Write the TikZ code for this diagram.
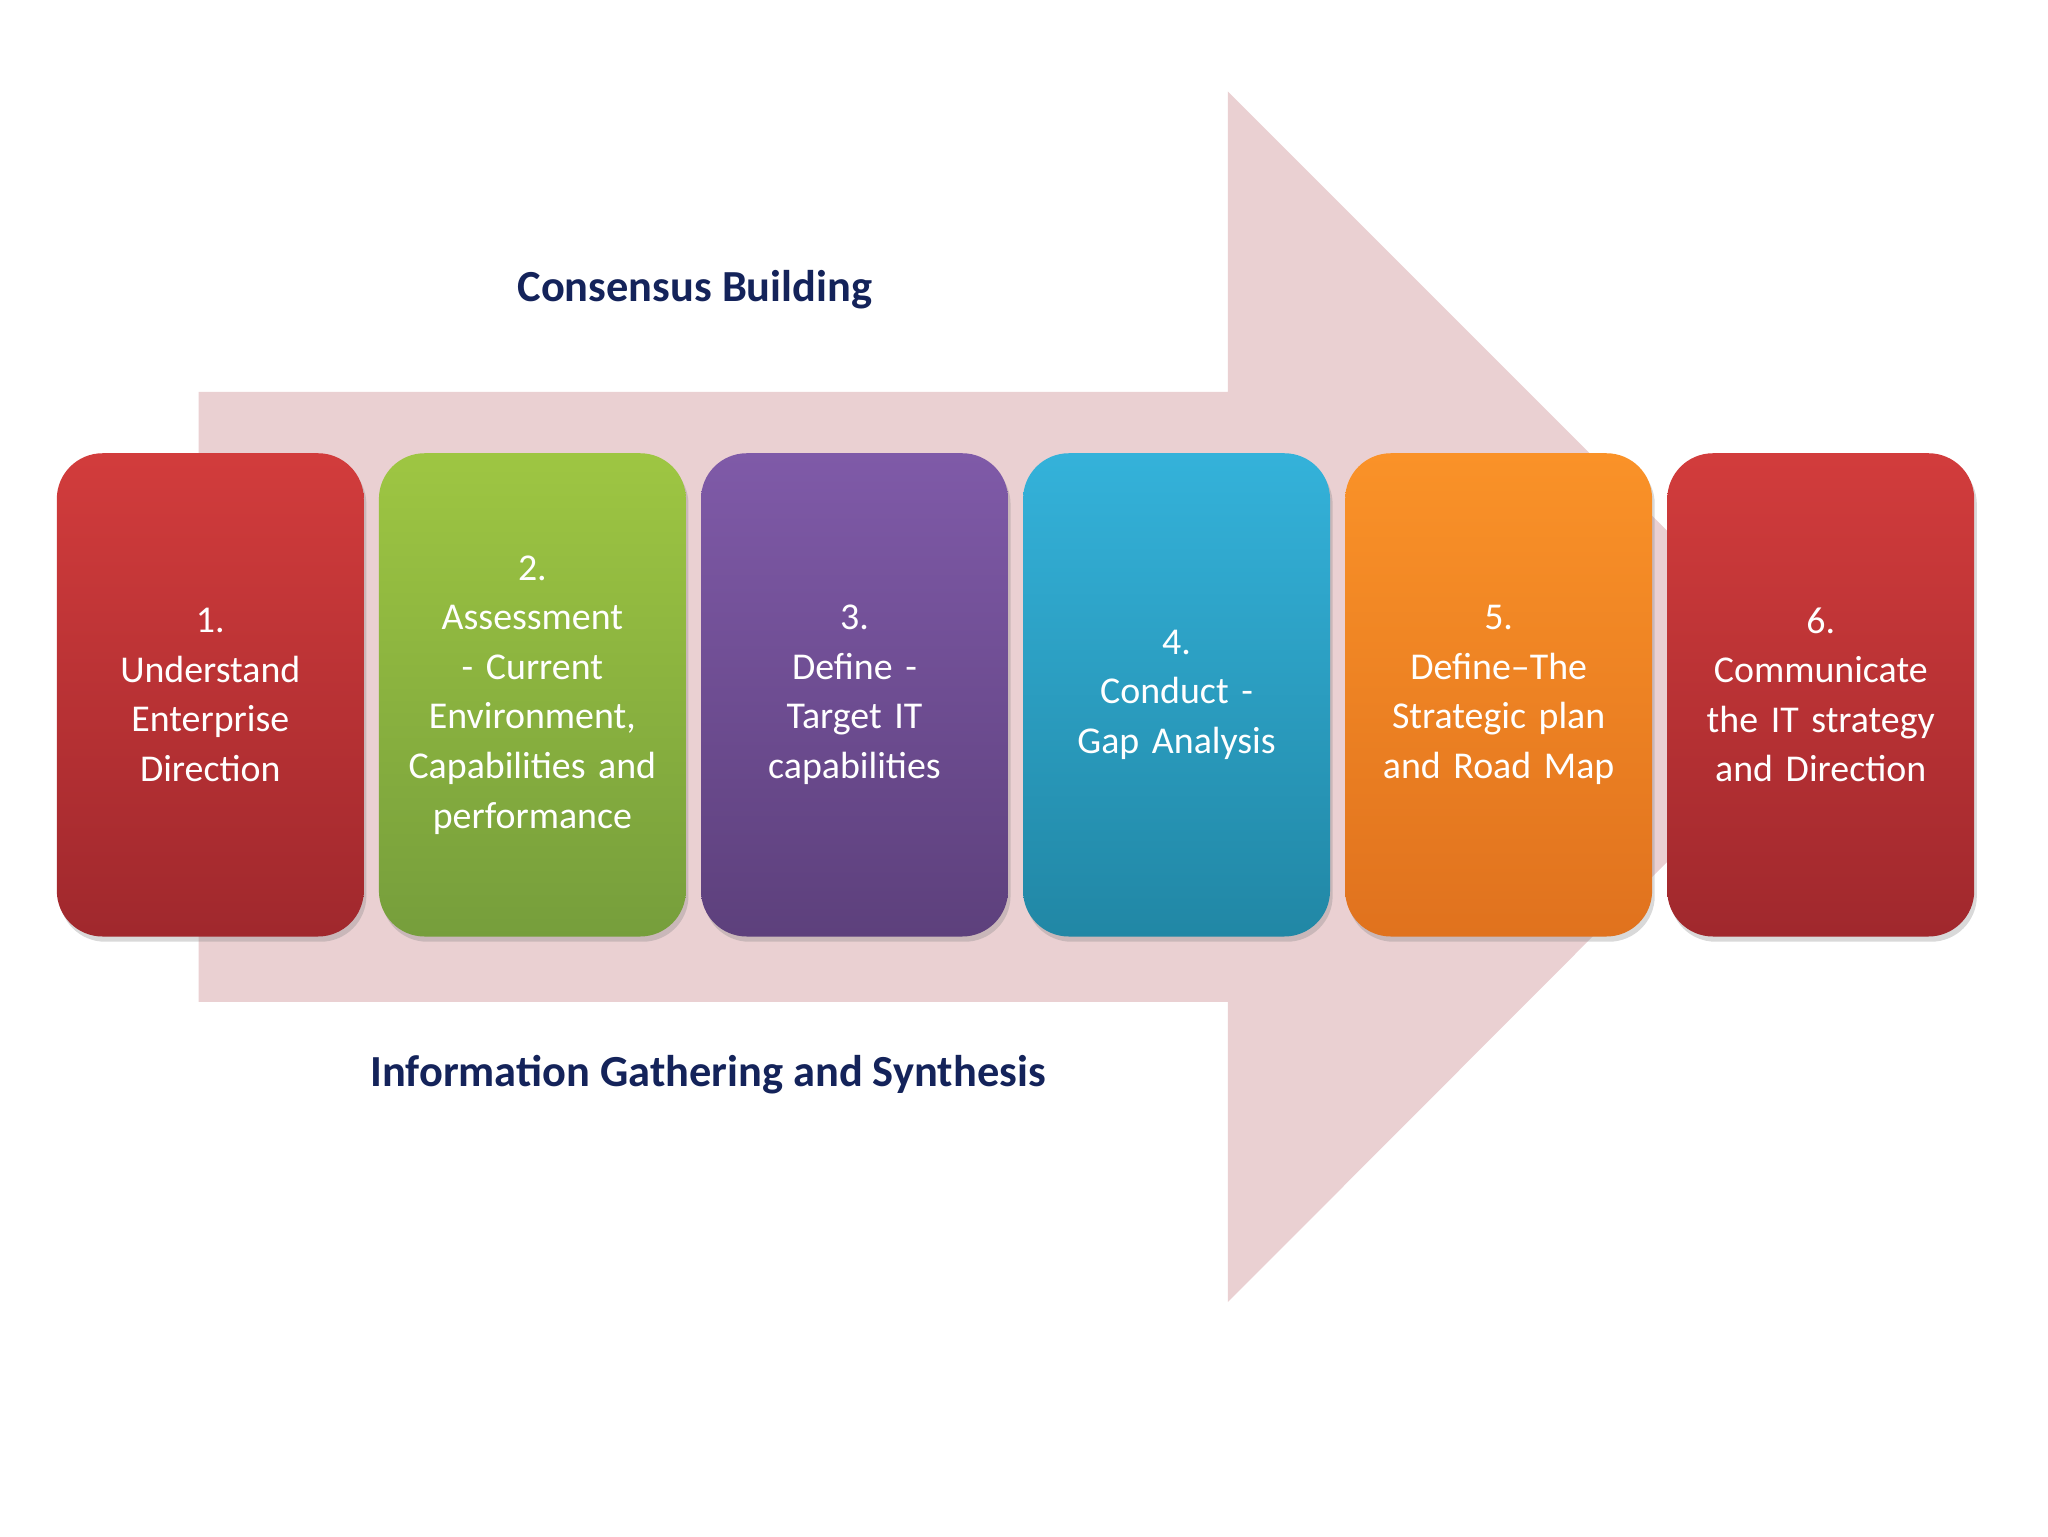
\documentclass[tikz,border=0pt]{standalone}
\usepackage{fontspec}
\setmainfont{Carlito}
\usetikzlibrary{shadows}
\definecolor{arrowpink}{RGB}{234,208,210}
\definecolor{titleblue}{RGB}{20,35,90}
\definecolor{redtop}{RGB}{210,60,60}\definecolor{redbot}{RGB}{160,40,45}
\definecolor{greentop}{RGB}{158,198,66}\definecolor{greenbot}{RGB}{118,158,60}
\definecolor{purpletop}{RGB}{127,90,168}\definecolor{purplebot}{RGB}{93,64,124}
\definecolor{bluetop}{RGB}{52,178,218}\definecolor{bluebot}{RGB}{33,135,165}
\definecolor{orangetop}{RGB}{250,146,40}\definecolor{orangebot}{RGB}{224,114,30}
\tikzset{
    stepbox/.style={rounded corners=35pt, minimum width=235pt, minimum height=370pt,
        text width=210pt, align=center, text=white, font=\fontsize{29}{38}\selectfont,
        drop shadow={opacity=0.3, shadow xshift=2pt, shadow yshift=-4pt}},
    title/.style={text=titleblue, font=\bfseries\fontsize{34}{40}\selectfont}
}
\begin{document}
\begin{tikzpicture}[x=1pt, y=-1pt]
    \useasboundingbox (0,0) rectangle (1568,1176);

    % big background arrow
    \fill[arrowpink] (152,300) -- (940,300) -- (940,70) -- (1403,533)
        -- (940,997) -- (940,767) -- (152,767) -- cycle;

    % titles
    \node[title] (top) at (532,222) {Consensus Building};
    \node[title] (bottom) at (542,823) {Information Gathering and Synthesis};

    % steps
    \foreach \i/\c/\t in {1/red/{1.\\Understand Enterprise Direction},
        2/green/{2.\\Assessment - Current Environment, Capabilities and performance},
        3/purple/{3.\\Define - \\Target IT capabilities},
        4/blue/{4.\\Conduct - Gap Analysis},
        5/orange/{5.\\Define--The Strategic plan and Road Map},
        6/red/{6.\\Communicate the IT strategy and Direction}} {
        \node[stepbox, top color=\c top, bottom color=\c bot] (s\i) at ({161+246.6*(\i-1)},532) {\t};
    }
\end{tikzpicture}
\end{document}
